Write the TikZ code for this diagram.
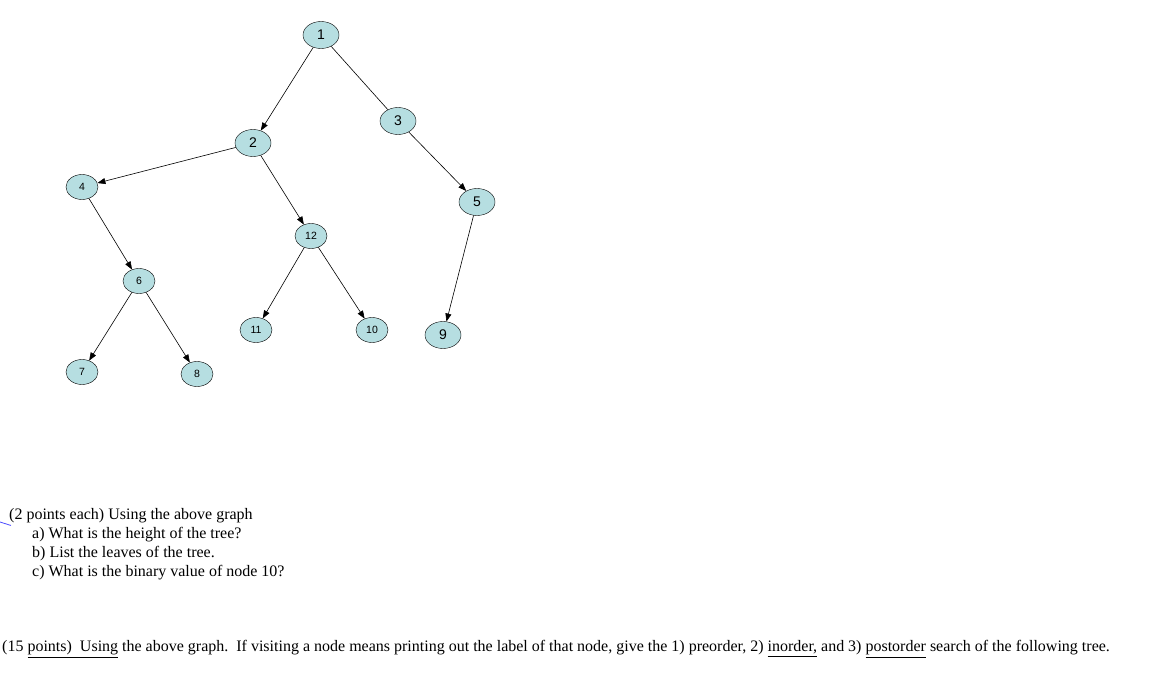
\documentclass[tikz,border=0pt]{standalone}
\usepackage{fontspec}
\setmainfont{Liberation Serif}
\newfontfamily\arialf{Liberation Sans}
\usetikzlibrary{arrows.meta,shapes.geometric}
\begin{document}
\begin{tikzpicture}[x=1pt,y=-1pt,
 big/.style={ellipse,draw,fill={rgb,255:red,182;green,222;blue,225},minimum width=36pt,minimum height=27pt,inner sep=0pt,font=\arialf\fontsize{14}{14}\selectfont},
 small/.style={big,minimum width=32pt,minimum height=25pt,font=\arialf\fontsize{10.5}{10.5}\selectfont},
 ar/.style={-{Triangle[length=8pt,width=6pt]},line width=0.6pt},
 ln/.style={line width=0.6pt},
 txt/.style={anchor=west,inner sep=0pt,font=\fontsize{16}{17}\selectfont}]
\useasboundingbox (0,0) rectangle (1164,674);
\node[big] (n1) at (321,35) {1};
\node[big] (n2) at (253,143) {2};
\node[big] (n3) at (398,121) {3};
\node[small] (n4) at (82,187) {4};
\node[big] (n5) at (477,202) {5};
\node[small] (n12) at (311,236) {12};
\node[small] (n6) at (139,281) {6};
\node[small] (n11) at (256,330) {11};
\node[small] (n10) at (372,330) {10};
\node[big] (n9) at (443,335) {9};
\node[small] (n7) at (82,372) {7};
\node[small] (n8) at (197,374) {8};
\draw[ar] (n1) -- (n2);
\draw[ln] (n1) -- (n3);
\draw[ar] (n3) -- (n5);
\draw[ar] (n2) -- (n4);
\draw[ar] (n2) -- (n12);
\draw[ar] (n4) -- (n6);
\draw[ar] (n12) -- (n11);
\draw[ar] (n12) -- (n10);
\draw[ar] (n5) -- (n9);
\draw[ar] (n6) -- (n7);
\draw[ar] (n6) -- (n8);
\node[txt] (t0) at (9,516) {(2 points each) Using the above graph};
\coordinate (u0) at (0,522);
\draw[blue!70,line width=0.8pt] (u0) -- ([xshift=2pt,yshift=-2pt]t0.south west);
\node[txt] (t1) at (32,535) {a) What is the height of the tree?};
\node[txt] (t2) at (32,554) {b) List the leaves of the tree.};
\node[txt] (t3) at (32,573) {c) What is the binary value of node 10?};
\node[txt] (t4) at (2,649) {(15 \underline{points)\ \ Using} the above graph.\ \ If visiting a node means printing out the label of that node, give the 1) preorder, 2) \underline{inorder,} and 3) \underline{postorder} search of the following tree.};
\end{tikzpicture}
\end{document}
